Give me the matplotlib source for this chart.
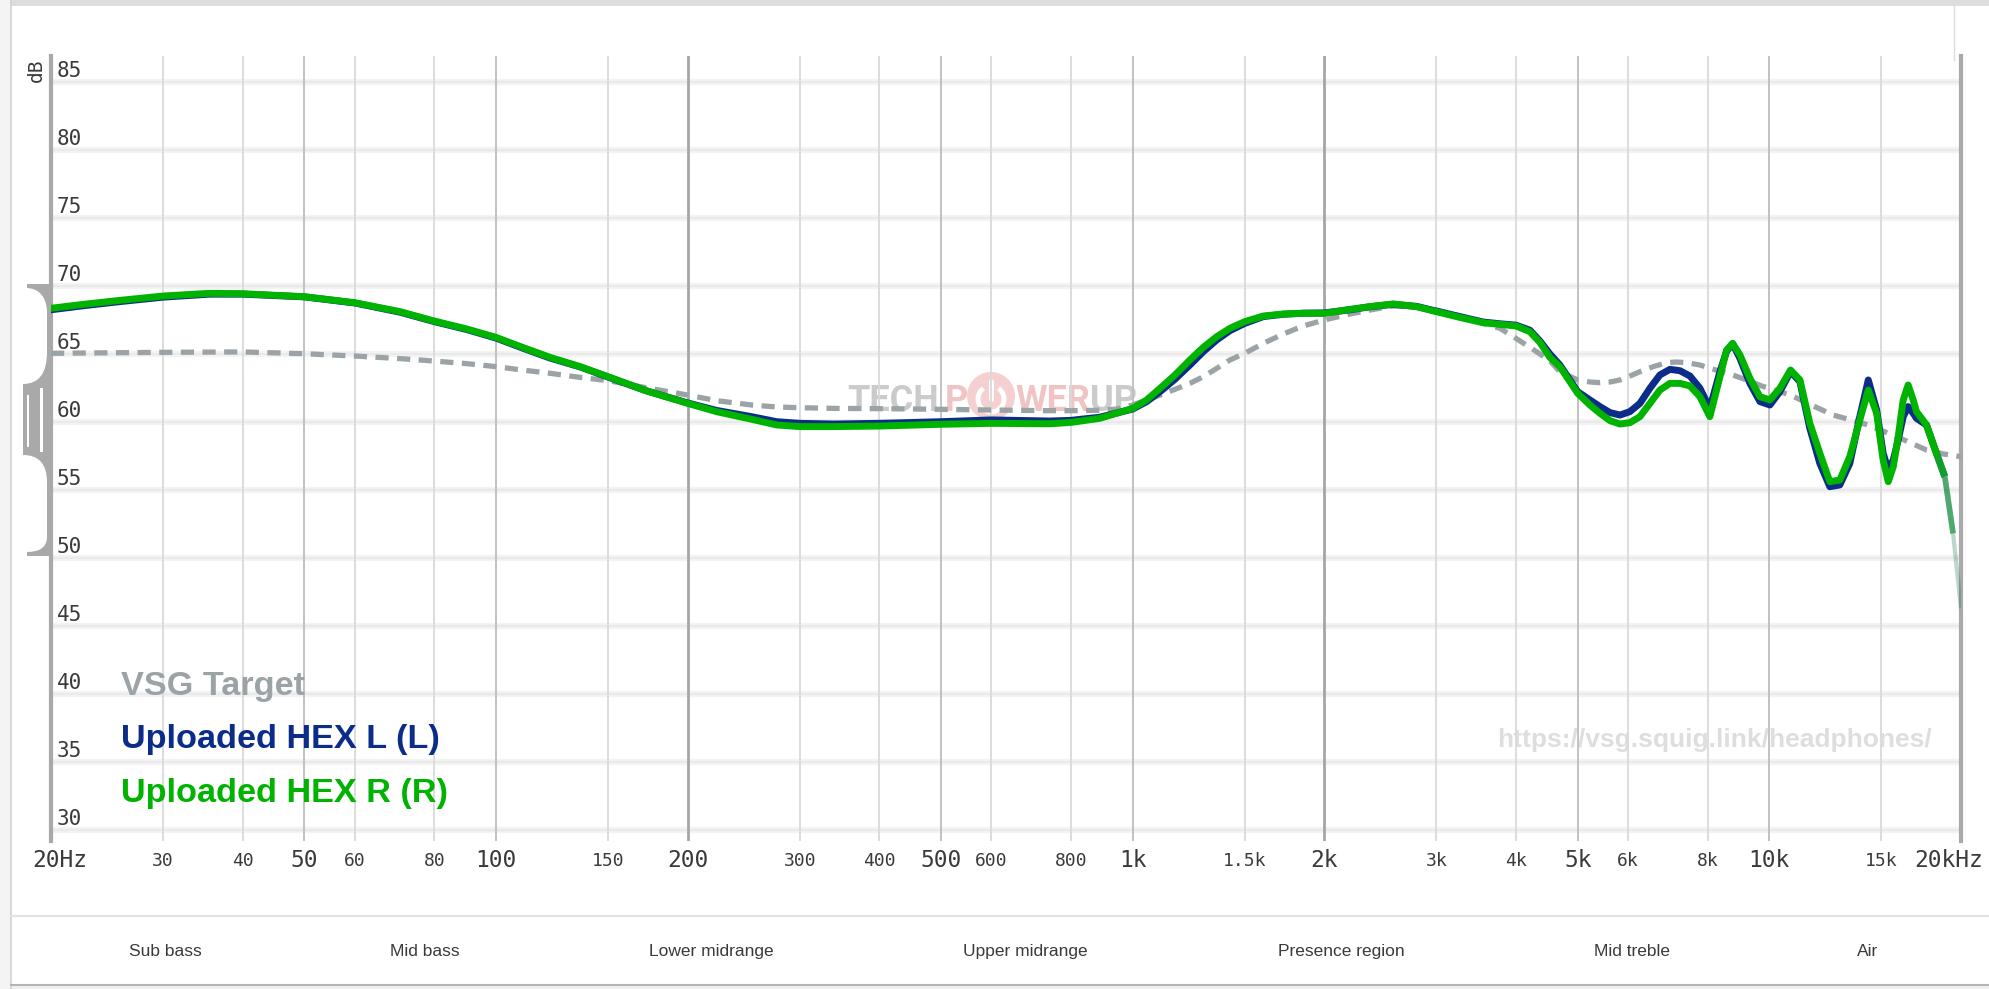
import matplotlib
matplotlib.use("Agg")
import matplotlib.pyplot as plt
from matplotlib.patches import Circle, Arc, PathPatch, Rectangle
from matplotlib.path import Path
from matplotlib.ticker import NullLocator
from matplotlib.transforms import offset_copy

# frequency response (Hz / dB)
freq_hex = [20, 22.5, 25.4, 30, 35.5, 40, 50, 60, 70.7, 80,
            89.9, 100, 110, 121.6, 135.5, 150, 172, 200, 222, 252,
            276, 300, 339, 400, 500, 600, 741, 800, 888, 1000,
            1052, 1104, 1165, 1230, 1291, 1355, 1422, 1500, 1604, 1724,
            1853, 2000, 2194, 2358, 2566, 2792, 3000, 3265, 3551, 3774,
            4000, 4206, 4362, 4522, 4688, 4861, 5000, 5226, 5419, 5619,
            5826, 6040, 6262, 6493, 6732, 6980, 7237, 7504, 7780, 8064,
            8364, 8568, 8757, 8991, 9322, 9665, 10021, 10389, 10796, 11168,
            11578, 12003, 12445, 12903, 13378, 13870, 14302, 14742, 15092, 15372,
            15655, 15937, 16228, 16520, 16823, 17026, 17340, 17653, 18300, 18862,
            19434, 20000]
hex_r = [68.36, 68.65, 68.92, 69.26, 69.46, 69.43, 69.21, 68.77, 68.11, 67.42,
         66.84, 66.22, 65.49, 64.75, 64.07, 63.33, 62.3, 61.37, 60.76, 60.2,
         59.78, 59.66, 59.66, 59.7, 59.83, 59.9, 59.87, 59.97, 60.27, 61.0,
         61.62, 62.47, 63.45, 64.56, 65.49, 66.27, 66.89, 67.38, 67.79, 67.94,
         67.99, 67.99, 68.28, 68.48, 68.68, 68.48, 68.11, 67.69, 67.3, 67.18,
         67.06, 66.64, 65.85, 64.75, 64.07, 62.97, 62.11, 61.25, 60.64, 60.1,
         59.85, 59.95, 60.39, 61.37, 62.35, 62.84, 62.84, 62.65, 61.86, 60.39,
         63.33, 65.29, 65.78, 64.93, 63.21, 61.86, 61.62, 62.48, 63.82, 63.09,
         59.9, 57.7, 55.61, 55.73, 57.45, 60.15, 62.35, 60.64, 57.2, 55.61,
         56.72, 58.92, 61.62, 62.72, 61.62, 60.76, 60.27, 59.78, 57.7, 55.98,
         51.81, 46.3]
hex_l = [68.25, 68.55, 68.83, 69.18, 69.4, 69.4, 69.2, 68.75, 68.07, 67.38,
         66.8, 66.17, 65.44, 64.7, 64.05, 63.3, 62.3, 61.4, 60.85, 60.39,
         60.02, 59.9, 59.85, 59.9, 60.02, 60.15, 60.07, 60.12, 60.35, 60.95,
         61.5, 62.23, 63.14, 64.19, 65.17, 66.03, 66.72, 67.25, 67.75, 67.92,
         68.0, 68.02, 68.25, 68.47, 68.65, 68.5, 68.15, 67.75, 67.35, 67.22,
         67.12, 66.75, 65.95, 65.0, 64.19, 63.09, 62.23, 61.62, 61.13, 60.69,
         60.51, 60.76, 61.37, 62.48, 63.46, 63.87, 63.77, 63.38, 62.48, 61.0,
         63.7, 65.2, 65.75, 64.68, 62.84, 61.5, 61.25, 62.23, 63.7, 62.97,
         59.53, 56.96, 55.24, 55.37, 56.96, 60.39, 63.09, 60.88, 57.7, 56.47,
         57.2, 58.68, 60.39, 61.13, 60.64, 60.27, 60.02, 59.78, 57.7, 55.98,
         51.81, 46.3]

freq_target = [20, 30, 40, 50, 60, 70.7, 80, 89.9, 100, 110,
               121.6, 135.5, 150, 172, 200, 222, 252, 276, 300, 339,
               400, 500, 600, 741, 800, 888, 944, 1000, 1052, 1104,
               1165, 1230, 1291, 1355, 1422, 1500, 1604, 1724, 1853, 2000,
               2194, 2358, 2566, 2792, 3000, 3265, 3551, 3774, 4000, 4206,
               4362, 4522, 4688, 5000, 5226, 5419, 5619, 5826, 6040, 6262,
               6573, 6897, 7153, 7413, 7780, 8064, 8757, 9210, 9722, 10796,
               11722, 12599, 13541, 14302, 15372, 16520, 17653, 18750, 20000]
vsg_target = [65.05, 65.12, 65.15, 65.02, 64.85, 64.66, 64.48, 64.29, 64.07, 63.82,
              63.58, 63.28, 63.04, 62.52, 61.98, 61.57, 61.25, 61.1, 61.05, 61.0,
              60.98, 60.93, 60.88, 60.83, 60.83, 60.86, 60.95, 61.25, 61.62, 61.98,
              62.4, 62.84, 63.33, 63.94, 64.56, 65.05, 65.78, 66.47, 67.06, 67.5,
              67.94, 68.23, 68.53, 68.48, 68.23, 67.79, 67.25, 66.89, 66.15, 65.49,
              65.0, 64.5, 63.7, 63.09, 62.94, 62.89, 62.94, 63.09, 63.38, 63.7,
              64.07, 64.36, 64.41, 64.36, 64.19, 63.95, 63.46, 63.09, 62.65, 61.98,
              61.18, 60.51, 60.1, 59.78, 59.17, 58.55, 57.94, 57.65, 57.45]

db_ticks = [30, 35, 40, 45, 50, 55, 60, 65, 70, 75, 80, 85]
hz_ticks = [20, 30, 40, 50, 60, 80, 100, 150, 200, 300, 400, 500, 600, 800,
            1000, 1500, 2000, 3000, 4000, 5000, 6000, 8000, 10000, 15000, 20000]
hz_labels = ['20Hz', '30', '40', '50', '60', '80', '100', '150', '200', '300', '400',
             '500', '600', '800', '1k', '1.5k', '2k', '3k', '4k', '5k', '6k', '8k',
             '10k', '15k', '20kHz']
big_ticks = [20, 50, 100, 200, 500, 1000, 2000, 5000, 10000, 20000]
dark_ticks = [20, 200, 2000, 20000]
regions = ['Sub bass', 'Mid bass', 'Lower midrange', 'Upper midrange',
           'Presence region', 'Mid treble', 'Air']
legend_names = ['VSG Target', 'Uploaded HEX L (L)', 'Uploaded HEX R (R)']

assert len(freq_hex) == len(hex_r) == len(hex_l)
assert len(freq_target) == len(vsg_target)

C_TARGET = '#9ba3a7'
C_L = '#0b2c88'
C_R = '#00b300'
AXGRAY = '#a9a9a9'
MONO = 'DejaVu Sans Mono'
SANS = 'Liberation Sans'

W, H = 1990, 989
fig = plt.figure(figsize=(W / 100, H / 100), dpi=100)

# background layer in pixel coords
bg = fig.add_axes([0, 0, 1, 1], zorder=0)
bg.set_xlim(0, W)
bg.set_ylim(H, 0)
bg.axis('off')

bg.add_patch(Rectangle((0, 0), W, 6, color='#dddddd', lw=0))
bg.add_patch(Rectangle((0, 0), 11, H, color='#f4f4f4', lw=0))
bg.plot([11, 11], [0, H], color='#d2d2d2', lw=1.2)
bg.plot([1954, 1954], [6, 60], color='#dddddd', lw=1)
bg.plot([11, W], [916, 916], color='#e2e2e2', lw=1.5)
bg.add_patch(Rectangle((11, 985), W, 4, color='#f0f0f0', lw=0))
bg.plot([11, W], [985, 985], color='#b4b4b4', lw=1.5)

# y-axis drag handle
verts = [(51, 284), (27, 284), (27, 288), (45, 289), (47, 310), (47, 352),
         (47, 384), (23, 384), (23, 455), (47, 455), (47, 482), (47, 538),
         (46, 552), (27, 552), (27, 556), (51, 556), (51, 284)]
codes = [Path.MOVETO, Path.LINETO, Path.LINETO, Path.CURVE3, Path.CURVE3, Path.LINETO,
         Path.CURVE3, Path.CURVE3, Path.LINETO, Path.CURVE3, Path.CURVE3, Path.LINETO,
         Path.CURVE3, Path.CURVE3, Path.LINETO, Path.LINETO, Path.CLOSEPOLY]
bg.add_patch(PathPatch(Path(verts, codes), fc=AXGRAY, ec='none'))
bg.add_patch(Rectangle((26.7, 395), 2.7, 52, color='white', lw=0))
bg.add_patch(Rectangle((40, 388), 2.7, 64, color='white', lw=0))

# watermarks
bg.text(1497, 747, 'https://vsg.squig.link/headphones/', color='#dedede',
        fontsize=19, fontweight='bold', family=SANS, va='baseline', ha='left')
logo = dict(fontsize=26, fontweight='bold', family='Roboto', ha='left', va='baseline')
bg.text(847, 411, 'TECH', color='#cbcbcb', **logo)
bg.text(945, 411, 'P', color='#f0c4c4', **logo)
bg.add_patch(Circle((991, 396), 24, color='#f5d0d0', lw=0))
bg.add_patch(Arc((991, 399), 26, 26, theta1=-55, theta2=235, color='white', lw=3.5))
bg.plot([991, 991], [381, 399], color='white', lw=3.5, solid_capstyle='round')
bg.text(1015, 411, 'WER', color='#f0c4c4', **logo)
bg.text(1090, 411, 'UP', color='#cbcbcb', **logo)

bg.text(36, 70, 'dB', rotation=90, family=MONO, fontsize=14, color='#3a3a3a',
        ha='center', va='center')

# main graph
ax = fig.add_axes([51 / W, 1 - 841 / H, 1910 / W, 785 / H], zorder=1)
ax.patch.set_alpha(0)
ax.set_xscale('log')
ax.set_xlim(20, 20000)
ax.set_ylim(29.19, 86.91)
for s in ax.spines.values():
    s.set_visible(False)
ax.set_xticks([])
ax.set_yticks([])
ax.xaxis.set_minor_locator(NullLocator())

for v in db_ticks:
    ax.axhline(v, color='#f3f3f3', lw=4.5, zorder=1)
    ax.axhline(v, color='#eaeaea', lw=1.6, zorder=1)

for f in hz_ticks:
    if f in dark_ticks:
        col, lw = '#a6a6a6', 2.0
    elif f in big_ticks:
        col, lw = '#bdbdbd', 1.3
    else:
        col, lw = '#dadada', 1.3
    ax.axvline(f, color=col, lw=lw, zorder=2)
ax.axvline(20, color=AXGRAY, lw=3, zorder=2, clip_on=False)
ax.axvline(20000, color=AXGRAY, lw=3, zorder=2, clip_on=False)

ax.plot(freq_target, vsg_target, color=C_TARGET, lw=3.8, dashes=(2.5, 1.6),
        dash_capstyle='butt', zorder=3)

# measured curves, tail fades out towards 20 kHz
n_fade = 3
fade_alpha = [0.75, 0.45, 0.15]
for ys, col, z in [(hex_l, C_L, 4), (hex_r, C_R, 5)]:
    ax.plot(freq_hex[:-n_fade], ys[:-n_fade], color=col, lw=5, zorder=z,
            solid_joinstyle='round', solid_capstyle='round')
    for k in range(n_fade):
        i = len(freq_hex) - n_fade - 1 + k
        ax.plot(freq_hex[i:i + 2], ys[i:i + 2], color=col, lw=5 - k,
                alpha=fade_alpha[k], zorder=z, solid_capstyle='butt')

# y tick labels inside the plot
ytr = offset_copy(ax.transData, fig=fig, x=6, y=5, units='dots')
for v in db_ticks:
    ax.text(20, v, str(v), transform=ytr, family=MONO, fontsize=15,
            color='#3a3a3a', ha='left', va='baseline', zorder=6)

# x tick labels
for f, lab in zip(hz_ticks, hz_labels):
    dx = 9 if f == 20 else (-12 if f == 20000 else 0)
    big = f in big_ticks
    tr = offset_copy(ax.get_xaxis_transform(), fig=fig, x=dx,
                     y=-26 if big else -25, units='dots')
    ax.text(f, 0, lab, transform=tr, family=MONO, fontsize=16.5 if big else 13,
            color='#3a3a3a', ha='center', va='baseline')

# frequency region labels
region_pos = [30.3, 77.3, 218, 677, 2124, 6081, 14290]
rtr = offset_copy(ax.get_xaxis_transform(), fig=fig, x=0, y=-115, units='dots')
for f, lab in zip(region_pos, regions):
    ax.text(f, 0, lab, transform=rtr, family=SANS, fontsize=12.5,
            color='#3a3a3a', ha='center', va='baseline')

# legend labels
for name, col, yb in zip(legend_names, [C_TARGET, C_L, C_R], [695, 748, 802]):
    ax.text(121, yb, name, transform=bg.transData, color=col, fontsize=24.7,
            fontweight='bold', family=SANS, ha='left', va='baseline', zorder=7)

fig.savefig('out.png', dpi=100)
